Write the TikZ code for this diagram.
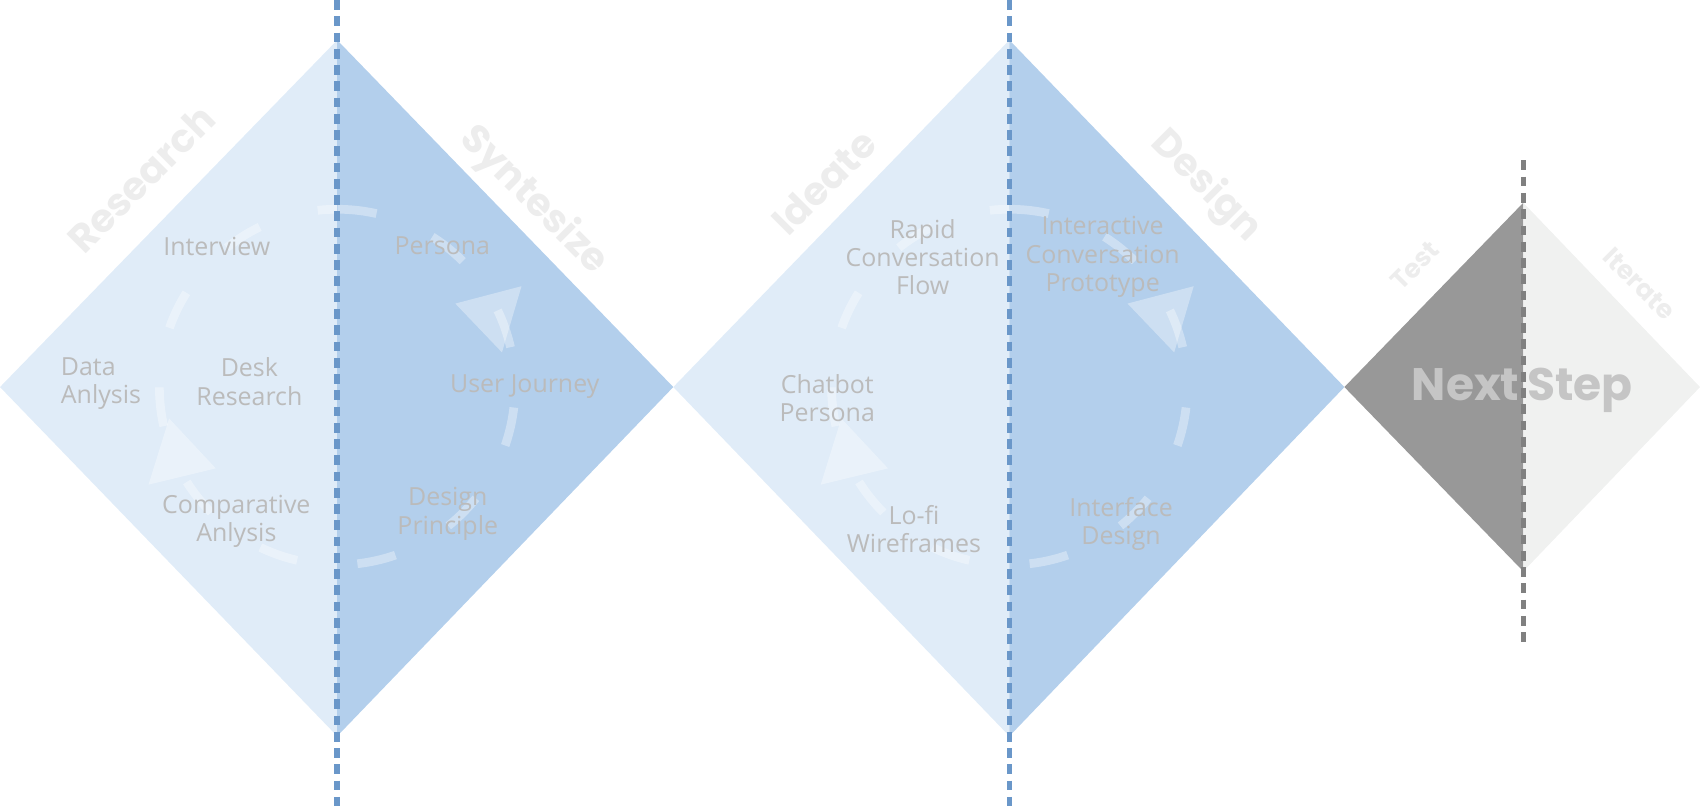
\documentclass[tikz,border=0pt]{standalone}
\usepackage{fontspec}
\setmainfont{Open Sans}
\newfontfamily\titlefont{Poppins}
\definecolor{lblue}{HTML}{E0ECF8}
\definecolor{mblue}{HTML}{B3CFEC}
\definecolor{dblue}{HTML}{6A97C9}
\definecolor{dgray}{HTML}{989898}
\definecolor{lgray}{HTML}{F0F1F0}
\definecolor{lblgray}{HTML}{BBBBBB}
\definecolor{ttl}{HTML}{EDEDED}
\tikzset{
  lbl/.style={text=lblgray, font=\fontsize{23}{26}\selectfont, align=center, inner sep=0},
  ttlstyle/.style={text=ttl, font=\titlefont\bfseries\fontsize{36}{40}\selectfont, inner sep=0},
  sep/.style={line width=5pt, dash pattern=on 9pt off 6pt},
  ring/.style={white, opacity=0.35, line width=8pt, dash pattern=on 36pt off 56pt},
  tri/.style={fill=white, opacity=0.35}
}
\begin{document}
\begin{tikzpicture}[x=1pt,y=-1pt]
\useasboundingbox (0,0) rectangle (1568,743);
% diamonds
\fill[lblue] (0,357) -- (311,37) -- (311,679) -- cycle;
\fill[mblue] (311,37) -- (621,357) -- (311,679) -- cycle;
\fill[lblue] (621,357) -- (931,37) -- (931,679) -- cycle;
\fill[mblue] (931,37) -- (1240,357) -- (931,679) -- cycle;
\fill[dgray] (1240,357) -- (1405,187) -- (1405,527) -- cycle;
\fill[lgray] (1405,187) -- (1568,357) -- (1405,527) -- cycle;
% rings and arrows
\foreach \dx in {0,620}{
  \begin{scope}[xshift=\dx]
  \draw[ring, dash phase=18pt] (311,357) ++(90:-164) arc[start angle=-90, end angle=-450, radius=164];
  \fill[tri] (420,280) -- (481,264) -- (463,325) -- cycle;
  \fill[tri] (156,386) -- (137,447) -- (199,432) -- cycle;
  \end{scope}
}
% separators
\draw[dblue, sep] (311,0) -- (311,743);
\draw[dblue, sep] (931,0) -- (931,743);
\draw[gray, sep] (1405,148) -- (1405,595);
% titles
\node[ttlstyle, rotate=45] (t1) at (130,165) {Research};
\node[ttlstyle, rotate=-45] (t2) at (492,185) {Syntesize};
\node[ttlstyle, rotate=45] (t3) at (760,168) {Ideate};
\node[ttlstyle, rotate=-45] (t4) at (1112,172) {Design};
\node[ttlstyle, rotate=45, font=\titlefont\bfseries\fontsize{24}{28}\selectfont] (t5) at (1305,245) {Test};
\node[ttlstyle, rotate=-45, font=\titlefont\bfseries\fontsize{24}{28}\selectfont] (t6) at (1512,262) {Iterate};
\node[text=lblgray!85, font=\titlefont\bfseries\fontsize{42}{46}\selectfont, inner sep=0] (ns) at (1404,360) {Next\,Step};
% labels
\node[lbl] (a1) at (200,227) {Interview};
\node[lbl, align=left, anchor=west] (a2) at (56,354) {Data\\Anlysis};
\node[lbl] (a3) at (230,352) {Desk\\Research};
\node[lbl] (a4) at (218,481) {Comparative\\Anlysis};
\node[lbl] (b1) at (408,227) {Persona};
\node[lbl] (b2) at (484,357) {User Journey};
\node[lbl] (b3) at (413,474) {Design\\Principle};
\node[lbl] (c1) at (851,237) {Rapid\\Conversation\\Flow};
\node[lbl] (c2) at (763,367) {Chatbot\\Persona};
\node[lbl] (c3) at (843,488) {Lo-fi\\Wireframes};
\node[lbl] (d1) at (1017,237) {Interactive\\Conversation\\Prototype};
\node[lbl] (d2) at (1034,483) {Interface\\Design};
\end{tikzpicture}
\end{document}
